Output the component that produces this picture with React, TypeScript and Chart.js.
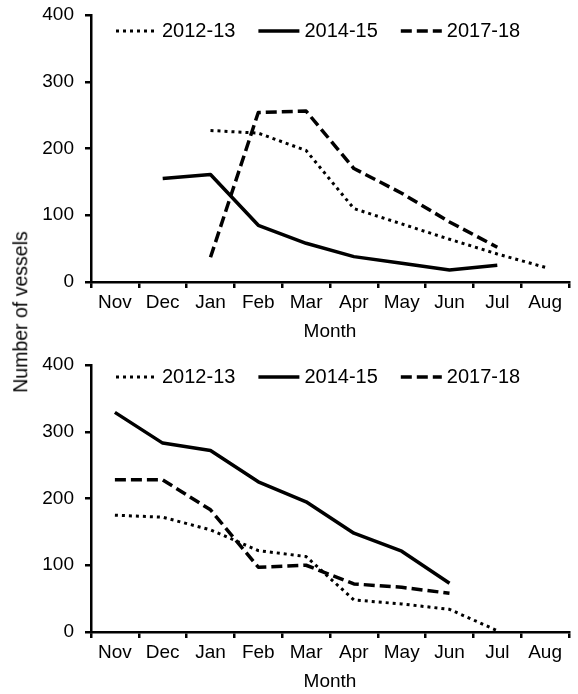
import React, { useEffect, useRef } from "react";
import { Chart, registerables } from "chart.js";

Chart.register(...registerables);

const FONT = '"Liberation Sans", Arial, sans-serif';

const MONTHS = ["Nov", "Dec", "Jan", "Feb", "Mar", "Apr", "May", "Jun", "Jul", "Aug"];
const SEASONS = ["2012-13", "2014-15", "2017-18"];
const Y_MIN = 0;
const Y_MAX = 400;
const Y_STEP = 100;

// Upper panel: number of vessels per month
const TOP_2012_13 = [null, null, 227, 223, 197, 110, 87, 64, 42, 22];
const TOP_2014_15 = [null, 155, 161, 85, 58, 38, 28, 18, 25, null];
const TOP_2017_18 = [null, null, 37, 254, 256, 170, 133, 90, 52, null];

// Lower panel: number of vessels per month
const BOTTOM_2012_13 = [175, 172, 153, 122, 113, 48, 42, 34, 2, null];
const BOTTOM_2014_15 = [329, 283, 272, 225, 195, 148, 121, 73, null, null];
const BOTTOM_2017_18 = [228, 228, 183, 97, 100, 72, 67, 58, null, null];

// Line style for each season: dotted, solid, dashed
const SEASON_STYLES = [
  { borderDash: [3, 4], borderWidth: 3 },
  { borderDash: [], borderWidth: 3.5 },
  { borderDash: [11, 5], borderWidth: 3.5 },
];

// Legend drawn inside the plot area, each entry a short line sample + label
const inlineLegend = {
  id: "inlineLegend",
  afterDatasetsDraw(chart: any, _args: any, opts: any) {
    const { ctx, chartArea } = chart;
    ctx.save();
    ctx.font = `${opts.fontSize}px ${FONT}`;
    ctx.textBaseline = "middle";
    ctx.textAlign = "left";
    ctx.fillStyle = "#000";
    let x = chartArea.left + opts.inset;
    const y = chartArea.top + opts.offsetY;
    chart.data.datasets.forEach((ds: any) => {
      ctx.strokeStyle = ds.borderColor;
      ctx.lineWidth = ds.borderWidth;
      ctx.setLineDash(ds.borderDash || []);
      ctx.beginPath();
      ctx.moveTo(x, y);
      ctx.lineTo(x + opts.lineLength, y);
      ctx.stroke();
      x += opts.lineLength + opts.textGap;
      ctx.fillText(ds.label, x, y);
      x += ctx.measureText(ds.label).width + opts.itemGap;
    });
    ctx.restore();
  },
};

// Both panels share the same canvas geometry
const CANVAS_W = 578;
const CANVAS_H = 354;
const PLOT_TOP = 25;
const PLOT_BOTTOM = 292;

type PanelProps = {
  series: (number | null)[][];
  top: number;
  legendY: number;
};

function Panel({ series, top, legendY }: PanelProps) {
  const ref = useRef<HTMLCanvasElement | null>(null);

  useEffect(() => {
    if (!ref.current) return;
    const axisColor = "#000";
    const chart = new Chart(ref.current, {
      type: "line",
      data: {
        labels: MONTHS,
        datasets: series.map((values, i) => ({
          label: SEASONS[i],
          data: values,
          borderColor: "#000",
          backgroundColor: "#000",
          borderDash: SEASON_STYLES[i].borderDash,
          borderWidth: SEASON_STYLES[i].borderWidth,
          borderJoinStyle: "round",
          pointRadius: 0,
          tension: 0,
          spanGaps: false,
          fill: false,
        })),
      },
      options: {
        responsive: false,
        animation: false,
        layout: { padding: { top: PLOT_TOP, right: 9, left: 0, bottom: 0 } },
        plugins: {
          legend: { display: false },
          tooltip: { enabled: false },
          inlineLegend: {
            fontSize: 20,
            inset: 25,
            offsetY: legendY,
            lineLength: 41,
            textGap: 5,
            itemGap: 23,
          },
        } as any,
        scales: {
          x: {
            type: "category",
            offset: true,
            grid: {
              offset: true,
              drawOnChartArea: false,
              drawTicks: true,
              tickLength: 6,
              color: axisColor,
              lineWidth: 2.5,
            },
            border: { display: true, color: axisColor, width: 2.5 },
            ticks: {
              color: "#000",
              font: { family: FONT, size: 19 },
              padding: 3,
              maxRotation: 0,
              autoSkip: false,
            },
            title: {
              display: true,
              text: "Month",
              color: "#000",
              font: { family: FONT, size: 19, lineHeight: 1 },
              padding: { top: 0, bottom: 3 },
            },
            afterFit: (s: any) => {
              s.height = CANVAS_H - PLOT_BOTTOM;
            },
          },
          y: {
            min: Y_MIN,
            max: Y_MAX,
            grid: {
              drawOnChartArea: false,
              drawTicks: true,
              tickLength: 6,
              color: axisColor,
              lineWidth: 2.5,
            },
            border: { display: true, color: axisColor, width: 2.5 },
            ticks: {
              stepSize: Y_STEP,
              color: "#000",
              font: { family: FONT, size: 19 },
              padding: 11,
            },
            afterFit: (s: any) => {
              s.width = 91;
            },
          },
        },
      },
      plugins: [inlineLegend],
    } as any);
    return () => chart.destroy();
  }, [series, legendY]);

  return (
    <canvas
      ref={ref}
      width={CANVAS_W}
      height={CANVAS_H}
      style={{ display: "block", position: "absolute", left: 0, top }}
    />
  );
}

const TOP_SERIES = [TOP_2012_13, TOP_2014_15, TOP_2017_18];
const BOTTOM_SERIES = [BOTTOM_2012_13, BOTTOM_2014_15, BOTTOM_2017_18];

export default function App() {
  return (
    <div
      style={{
        position: "absolute",
        left: 0,
        top: 0,
        width: 578,
        height: 694,
        overflow: "hidden",
        background: "#fff",
        fontFamily: FONT,
      }}
    >
      <Panel series={TOP_SERIES} top={-10} legendY={16} />
      <Panel series={BOTTOM_SERIES} top={340} legendY={12} />
      <div
        style={{
          position: "absolute",
          left: 21,
          top: 311.5,
          transform: "translate(-50%, -50%) rotate(-90deg)",
          whiteSpace: "nowrap",
          fontSize: 19.5,
          lineHeight: 1,
          color: "#000",
        }}
      >
        Number of vessels
      </div>
    </div>
  );
}
